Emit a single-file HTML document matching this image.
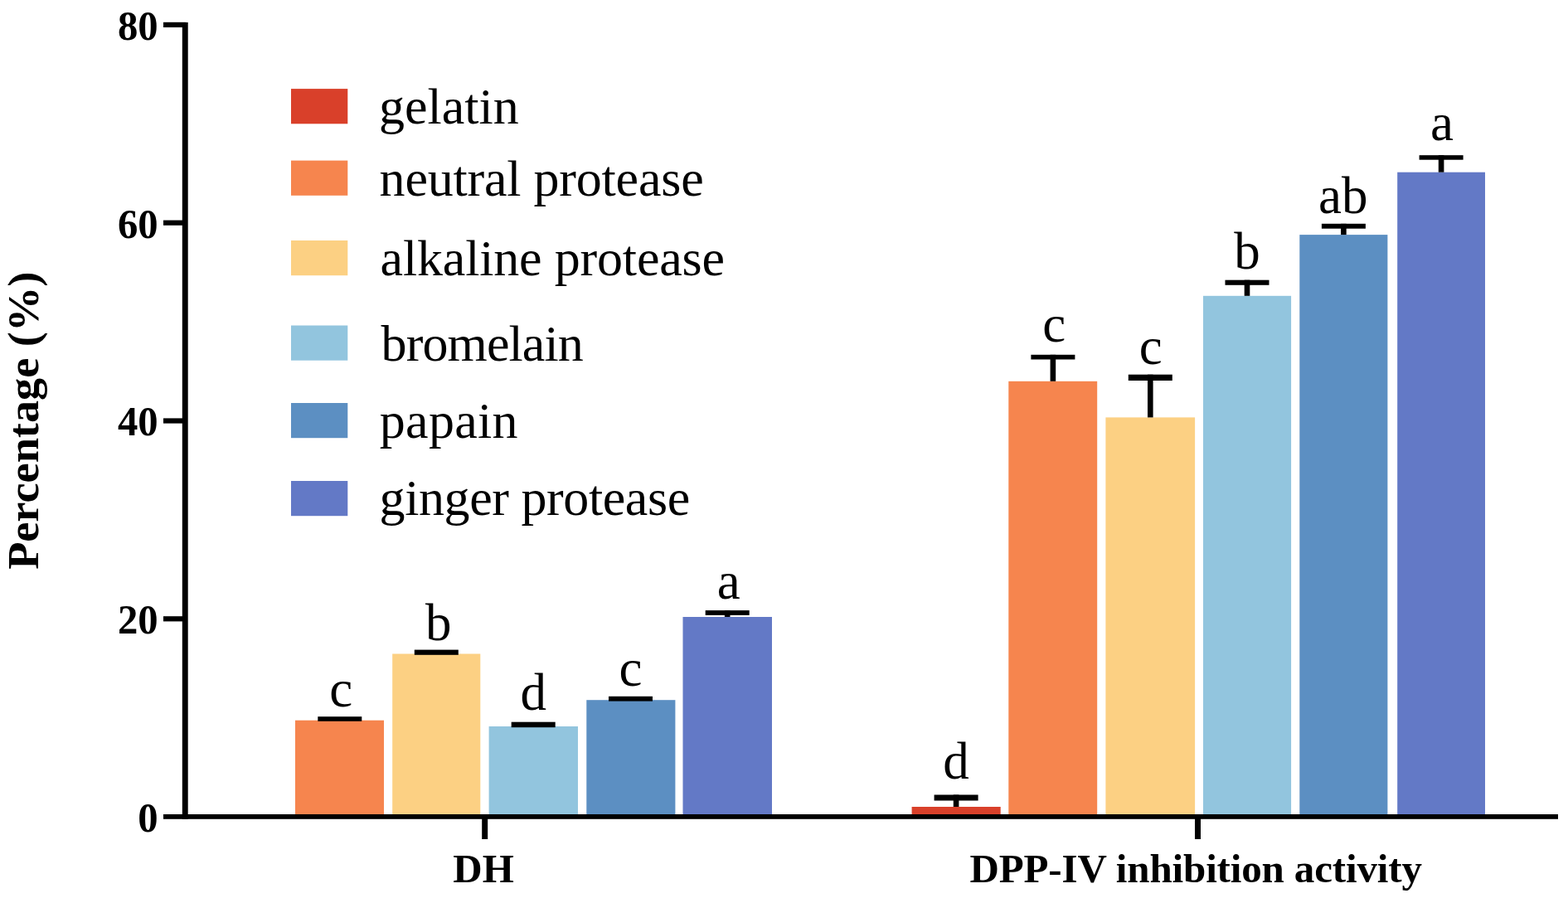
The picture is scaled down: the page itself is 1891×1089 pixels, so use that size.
<!DOCTYPE html><html><head><meta charset="utf-8"><title>DH and DPP-IV inhibition activity</title><style>html,body{margin:0;padding:0;background:#fff;overflow:hidden;}svg{display:block;}text{font-family:"Liberation Serif","Times New Roman",serif;fill:#000;}</style></head><body>
<svg width="1891" height="1089" viewBox="0 0 1891 1089">
<rect width="1891" height="1089" fill="#fff"/>
<rect x="356" y="868.7" width="107.0" height="116.3" fill="#F6854E"/>
<rect x="473.2" y="788.5" width="106.1" height="196.5" fill="#FCD083"/>
<rect x="589.6" y="876" width="107.4" height="109.0" fill="#92C5DE"/>
<rect x="707.3" y="844.2" width="107.1" height="140.8" fill="#5C8FC2"/>
<rect x="823.5" y="744" width="107.5" height="241.0" fill="#6379C6"/>
<rect x="1099.6" y="973" width="107.1" height="12.0" fill="#D9402A"/>
<rect x="1216.3" y="459.8" width="106.9" height="525.2" fill="#F6854E"/>
<rect x="1333.4" y="503.4" width="107.7" height="481.6" fill="#FCD083"/>
<rect x="1451" y="356.8" width="106.1" height="628.2" fill="#92C5DE"/>
<rect x="1567.3" y="283.1" width="106.1" height="701.9" fill="#5C8FC2"/>
<rect x="1685.2" y="207.7" width="105.8" height="777.3" fill="#6379C6"/>
<rect x="383.3" y="864.2" width="53" height="5.6" fill="#000"/>
<rect x="499.8" y="783.6" width="53" height="6.2" fill="#000"/>
<rect x="616.7" y="870.7" width="53" height="6.5" fill="#000"/>
<rect x="734.0" y="839.8" width="53" height="5.8" fill="#000"/>
<rect x="850.7" y="736.1" width="53" height="5.8" fill="#000"/>
<rect x="873.9" y="736.1" width="6.6" height="7.9" fill="#000"/>
<rect x="1126.6" y="958.5" width="53" height="7.0" fill="#000"/>
<rect x="1149.8" y="958.5" width="6.6" height="14.5" fill="#000"/>
<rect x="1243.4" y="427.8" width="53" height="5.7" fill="#000"/>
<rect x="1266.6" y="427.8" width="6.6" height="32.0" fill="#000"/>
<rect x="1360.8" y="451.7" width="53" height="7.3" fill="#000"/>
<rect x="1384.0" y="451.7" width="6.6" height="51.7" fill="#000"/>
<rect x="1477.5" y="337.7" width="53" height="6.1" fill="#000"/>
<rect x="1500.7" y="337.7" width="6.6" height="19.1" fill="#000"/>
<rect x="1593.9" y="269.8" width="53" height="5.9" fill="#000"/>
<rect x="1617.1" y="269.8" width="6.6" height="13.3" fill="#000"/>
<rect x="1711.6" y="187.2" width="53" height="5.5" fill="#000"/>
<rect x="1734.8" y="187.2" width="6.6" height="20.5" fill="#000"/>
<text x="411.3" y="851.5" font-size="63" text-anchor="middle">c</text>
<text x="528.8" y="771.5" font-size="63" text-anchor="middle">b</text>
<text x="643.2" y="856.0" font-size="63" text-anchor="middle">d</text>
<text x="760.5" y="827.0" font-size="63" text-anchor="middle">c</text>
<text x="878.7" y="721.5" font-size="63" text-anchor="middle">a</text>
<text x="1153.1" y="938.5" font-size="63" text-anchor="middle">d</text>
<text x="1271.2" y="411.5" font-size="63" text-anchor="middle">c</text>
<text x="1387.8" y="438.8" font-size="63" text-anchor="middle">c</text>
<text x="1504.0" y="323.7" font-size="63" text-anchor="middle">b</text>
<text x="1619.7" y="256.5" font-size="63" text-anchor="middle">ab</text>
<text x="1738.9" y="168.5" font-size="63" text-anchor="middle">a</text>
<rect x="219.8" y="27" width="6.9" height="961" fill="#000"/>
<rect x="197" y="982" width="1682" height="5.8" fill="#000"/>
<text transform="translate(190.6,1003.0) scale(0.965,1)" font-size="50.5" font-weight="bold" text-anchor="end">0</text>
<rect x="197" y="743.2" width="27" height="6.2" fill="#000"/>
<text transform="translate(190.6,764.2) scale(0.965,1)" font-size="50.5" font-weight="bold" text-anchor="end">20</text>
<rect x="197" y="504.4" width="27" height="6.2" fill="#000"/>
<text transform="translate(190.6,525.4) scale(0.965,1)" font-size="50.5" font-weight="bold" text-anchor="end">40</text>
<rect x="197" y="265.6" width="27" height="6.2" fill="#000"/>
<text transform="translate(190.6,286.6) scale(0.965,1)" font-size="50.5" font-weight="bold" text-anchor="end">60</text>
<rect x="197" y="26.8" width="27" height="6.2" fill="#000"/>
<text transform="translate(190.6,47.8) scale(0.965,1)" font-size="50.5" font-weight="bold" text-anchor="end">80</text>
<rect x="581.2" y="985" width="7" height="27" fill="#000"/>
<rect x="1441.0" y="985" width="7" height="27" fill="#000"/>
<text x="583" y="1063.5" font-size="49" font-weight="bold" text-anchor="middle">DH</text>
<text x="1442.2" y="1063.5" font-size="49" font-weight="bold" text-anchor="middle" textLength="545.5" lengthAdjust="spacing">DPP-IV inhibition activity</text>
<text transform="translate(46.3,507.3) rotate(-90) scale(1.044,1)" font-size="52" font-weight="bold" text-anchor="middle">Percentage (%)</text>
<rect x="351" y="107.1" width="68.3" height="42.2" fill="#D9402A"/>
<text x="457" y="149.2" font-size="62" textLength="168.7" lengthAdjust="spacing">gelatin</text>
<rect x="351" y="193.6" width="68.3" height="42.2" fill="#F6854E"/>
<text x="457.6" y="235.7" font-size="62" textLength="391.1" lengthAdjust="spacing">neutral protease</text>
<rect x="351" y="290" width="68.3" height="42.2" fill="#FCD083"/>
<text x="458.6" y="332.3" font-size="62" textLength="415.5" lengthAdjust="spacing">alkaline protease</text>
<rect x="351" y="392.5" width="68.3" height="42.2" fill="#92C5DE"/>
<text x="459.6" y="434.8" font-size="62" textLength="244.2" lengthAdjust="spacing">bromelain</text>
<rect x="351" y="486" width="68.3" height="42.2" fill="#5C8FC2"/>
<text x="457.8" y="528" font-size="62" textLength="166.7" lengthAdjust="spacing">papain</text>
<rect x="351" y="580" width="68.3" height="42.2" fill="#6379C6"/>
<text x="457.6" y="620.5" font-size="62" textLength="374.6" lengthAdjust="spacing">ginger protease</text>
</svg></body></html>
